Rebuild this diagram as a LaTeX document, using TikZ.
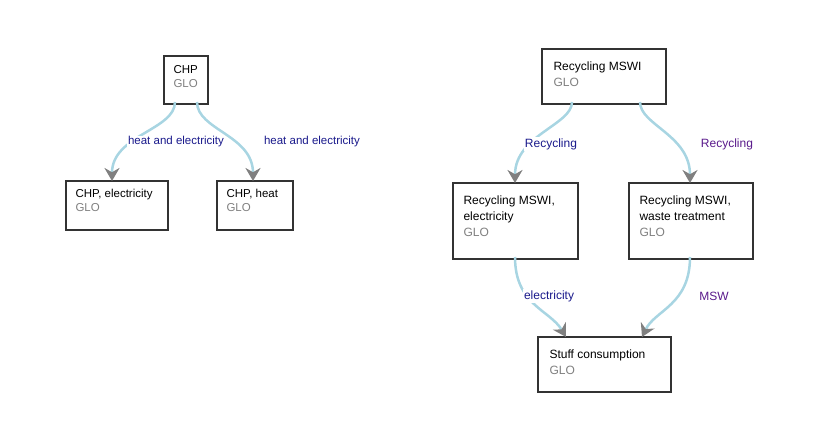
\documentclass[tikz,border=0pt]{standalone}
\usepackage{fontspec}
\setmainfont{Liberation Sans}
\usetikzlibrary{arrows.meta}
\definecolor{lbl}{HTML}{1A1A8C}
\definecolor{lblp}{HTML}{5A1A8C}
\definecolor{edge}{HTML}{A8D5E2}
\begin{document}
\begin{tikzpicture}[x=1pt,y=-1pt,
 box/.style={draw=black!80,line width=2.2pt,fill=white,align=left,anchor=north west,inner sep=0pt,font=\fontsize{12}{14}\selectfont},
 e/.style={draw=edge,line width=2.5pt,-{Stealth[length=13pt,width=15pt,fill=gray,color=gray]}},
 l/.style={font=\fontsize{12}{14}\selectfont,text=lbl,fill=white,inner sep=1pt},
 g/.style={text=gray}]
\useasboundingbox (0,0) rectangle (833,444);
\node[box,minimum width=44pt,minimum height=48pt] (chp) at (163,55) {};
\node[align=left,font=\fontsize{11.5}{14}\selectfont,anchor=north west] at (170,62) {CHP\\\textcolor{gray}{GLO}};
\node[box,minimum width=102pt,minimum height=49pt] (chpe) at (65,180) {};
\node[align=left,font=\fontsize{11.5}{14}\selectfont,anchor=north west] at (72,186) {CHP, electricity\\\textcolor{gray}{GLO}};
\node[box,minimum width=76pt,minimum height=49pt] (chph) at (216,180) {};
\node[align=left,font=\fontsize{11.5}{14}\selectfont,anchor=north west] at (223,186) {CHP, heat\\\textcolor{gray}{GLO}};
\node[box,minimum width=124pt,minimum height=55pt] (rm) at (541,48) {};
\node[align=left,font=\fontsize{12}{16}\selectfont,anchor=north west] at (550,58) {Recycling MSWI\\\textcolor{gray}{GLO}};
\node[box,minimum width=125pt,minimum height=76pt] (rme) at (452,182) {};
\node[align=left,font=\fontsize{12}{16}\selectfont,anchor=north west] at (460,192) {Recycling MSWI,\\electricity\\\textcolor{gray}{GLO}};
\node[box,minimum width=124pt,minimum height=76pt] (rmw) at (628,182) {};
\node[align=left,font=\fontsize{12}{16}\selectfont,anchor=north west] at (636,192) {Recycling MSWI,\\waste treatment\\\textcolor{gray}{GLO}};
\node[box,minimum width=133pt,minimum height=55pt] (sc) at (537,336) {};
\node[align=left,font=\fontsize{12}{16}\selectfont,anchor=north west] at (546,346) {Stuff consumption\\\textcolor{gray}{GLO}};
\coordinate (a1) at (175,102); \coordinate (b1) at (112,181);
\coordinate (a2) at (197,102); \coordinate (b2) at (253,181);
\coordinate (a3) at (572,102); \coordinate (b3) at (515,183);
\coordinate (a4) at (640,102); \coordinate (b4) at (690,183);
\coordinate (a5) at (515,257); \coordinate (b5) at (566,337);
\coordinate (a6) at (690,257); \coordinate (b6) at (642,337);
\draw[e] (a1) .. controls (175,130) and (112,135) .. (b1);
\draw[e] (a2) .. controls (197,130) and (253,135) .. (b2);
\draw[e] (a3) .. controls (572,125) and (515,135) .. (b3);
\draw[e] (a4) .. controls (640,125) and (690,135) .. (b4);
\draw[e] (a5) .. controls (515,305) and (550,310) .. (b5);
\draw[e] (a6) .. controls (690,305) and (655,310) .. (b6);
\node[l,font=\fontsize{11.5}{14}\selectfont] (l1) at (176,142) {heat and electricity};
\node[l,font=\fontsize{11.5}{14}\selectfont] (l2) at (312,142) {heat and electricity};
\node[l] (l3) at (551,144) {Recycling};
\node[l,text=lblp] (l4) at (727,144) {Recycling};
\node[l] (l5) at (549,296) {electricity};
\node[l,text=lblp] (l6) at (714,296) {MSW};
\end{tikzpicture}
\end{document}
